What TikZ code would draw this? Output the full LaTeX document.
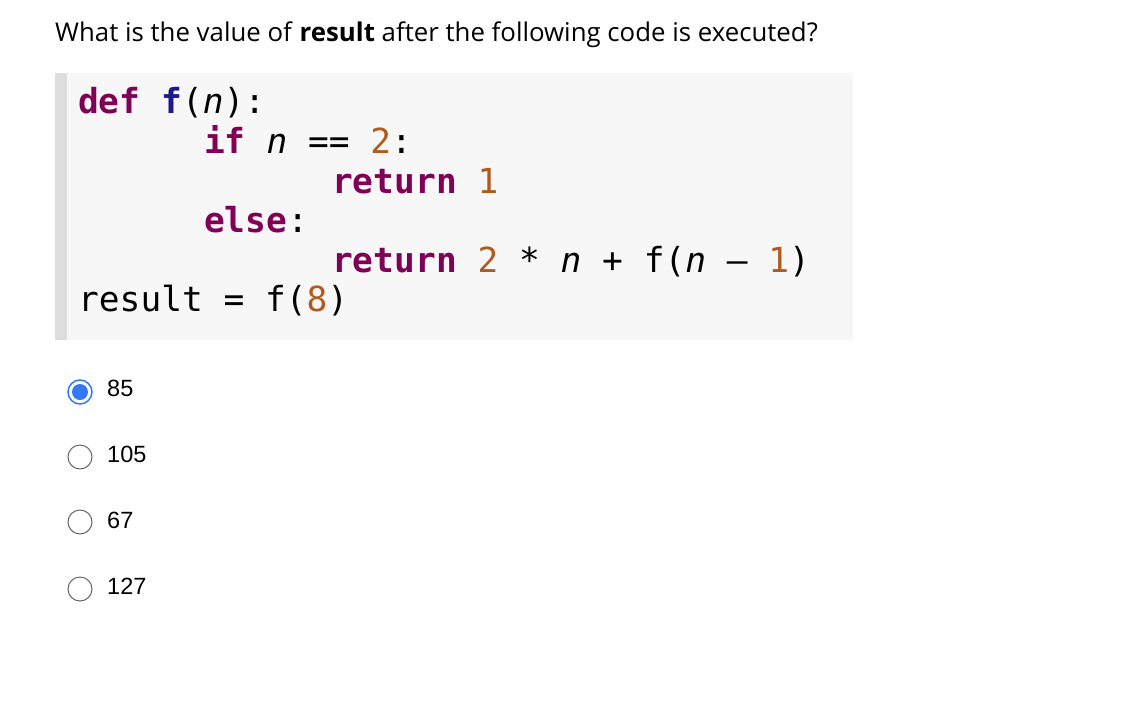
\documentclass[tikz,border=0pt]{standalone}
\usepackage{fontspec}
\setmainfont{Open Sans}
\newfontfamily\codefont{DejaVu Sans Mono}
\newfontfamily\optfont{Liberation Sans}
\definecolor{kw}{HTML}{7F0055}
\definecolor{fn}{HTML}{1A1A8C}
\definecolor{num}{HTML}{B05A1E}
\definecolor{codebg}{HTML}{F7F7F7}
\definecolor{barc}{HTML}{DDDDDD}
\definecolor{sel}{HTML}{3478F6}
\begin{document}
\begin{tikzpicture}[x=1pt,y=-1pt,
  code/.style={anchor=base west,inner sep=0pt,font=\codefont\fontsize{34.5}{40}\selectfont},
  opt/.style={anchor=base west,inner sep=0pt,font=\optfont\fontsize{23.5}{26}\selectfont},
  radio/.style={circle,draw=gray!80!black,line width=1pt,minimum size=24pt,inner sep=0pt}]
\useasboundingbox (0,0) rectangle (1146,710);
\fill[white] (0,0) rectangle (1146,710);
\node[anchor=base west,inner sep=0pt,font=\fontsize{25.8}{30}\selectfont] (q) at (55,41) {What is the value of \textbf{result} after the following code is executed?};
\fill[codebg] (55,73) rectangle (853,340);
\fill[barc] (55,73) rectangle (67,340);
\node[code] (l1) at (78,113) {\textbf{\color{kw}def} \textbf{\color{fn}f}(\textit{n}):};
\node[code] (l2) at (204,153) {\textbf{\color{kw}if} \textit{n} == {\color{num}2}:};
\node[code] (l3) at (332,193) {\textbf{\color{kw}return} {\color{num}1}};
\node[code] (l4) at (204,232) {\textbf{\color{kw}else}:};
\node[code] (l5) at (332,272) {\textbf{\color{kw}return} {\color{num}2} * \textit{n} + f(\textit{n} \textendash{} {\color{num}1})};
\node[code] (l6) at (78,311) {result = f({\color{num}8})};
\node[radio,draw=sel,line width=1.5pt] (r1) at (80,392) {};
\fill[sel] (r1.center) circle (8);
\node[radio] (r2) at (80,457) {};
\node[radio] (r3) at (80,522) {};
\node[radio] (r4) at (80,589) {};
\node[opt] (o1) at (107,396) {85};
\node[opt] (o2) at (107,462) {105};
\node[opt] (o3) at (107,528) {67};
\node[opt] (o4) at (107,594) {127};
\end{tikzpicture}
\end{document}
